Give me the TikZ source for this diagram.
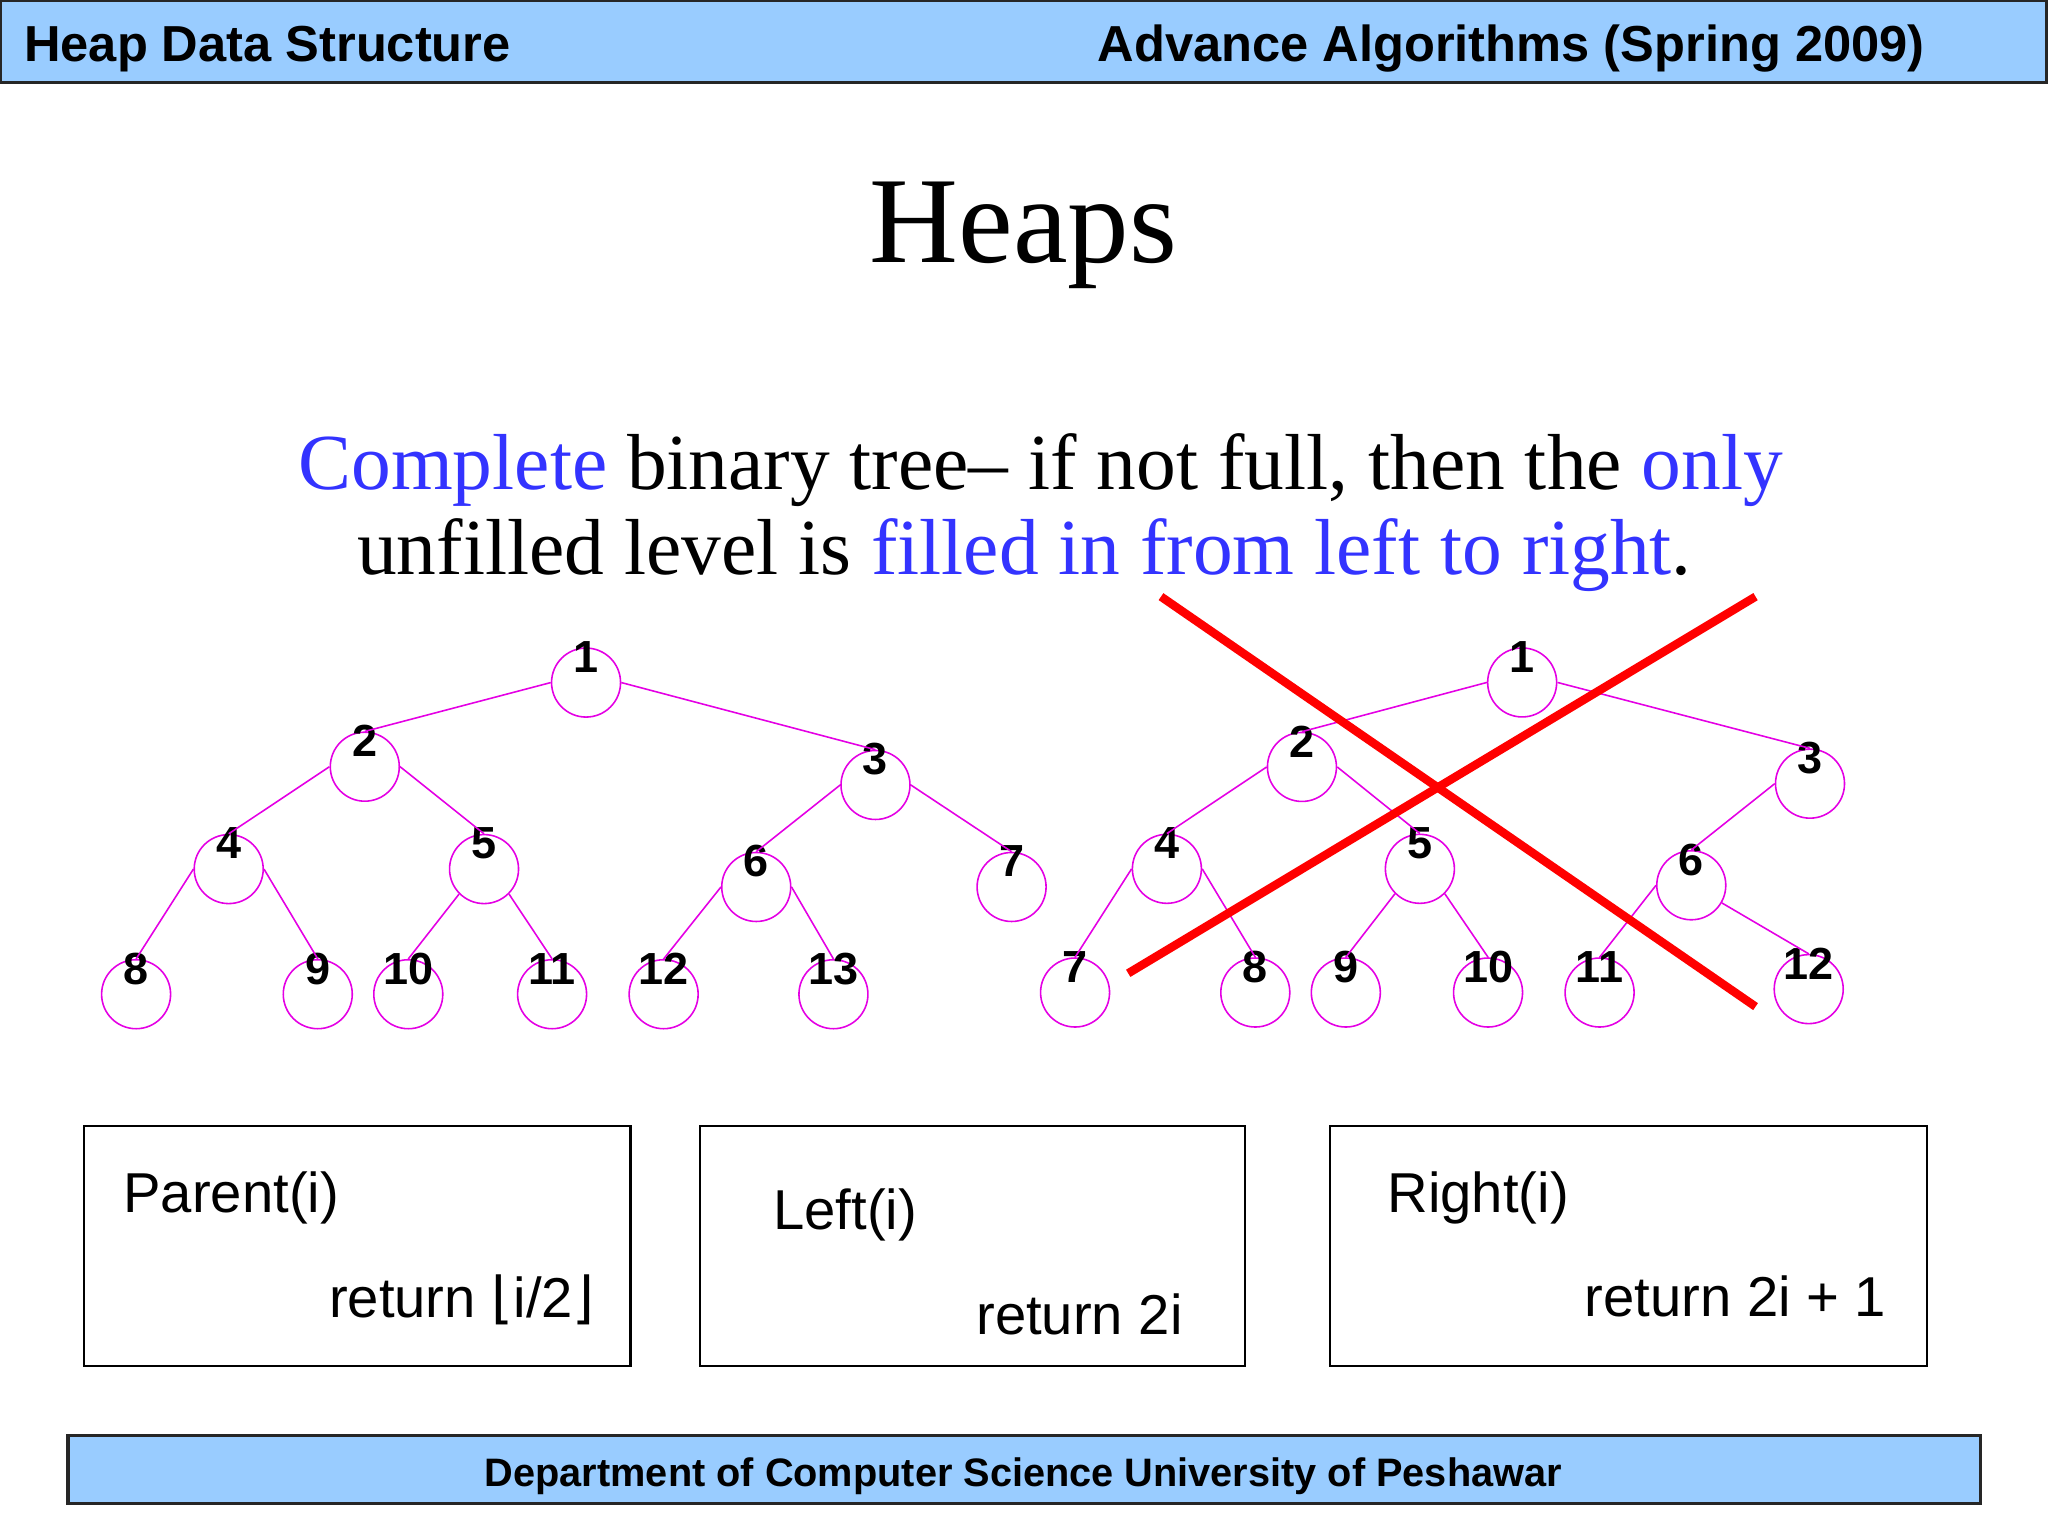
\documentclass[tikz,border=0pt]{standalone}
\usepackage{fontspec}
\setmainfont{Liberation Serif}
\setsansfont{Liberation Sans}
\newfontfamily\symfont{DejaVu Sans}
\usepackage{tikz}

\definecolor{barblue}{RGB}{153,204,255}
\definecolor{heapmagenta}{RGB}{228,0,228}
\definecolor{keyblue}{RGB}{51,51,255}
\definecolor{crossred}{RGB}{255,0,0}

\begin{document}
\begin{tikzpicture}[x=0.013061cm, y=-0.013061cm,
    bar/.style={fill=barblue, draw=black!85, line width=0.9pt},
    hdr/.style={font=\sffamily\bfseries\fontsize{14.4}{17}\selectfont, inner sep=0pt},
    body/.style={font=\fontsize{22.6}{27}\selectfont, inner sep=0pt},
    fn/.style={font=\sffamily\fontsize{16}{19}\selectfont, inner sep=0pt},
    fnbox/.style={draw=black, line width=0.7pt},
    vertex/.style={circle, draw=heapmagenta, line width=0.45pt, minimum size=0.69cm, inner sep=0pt},
    num/.style={font=\sffamily\bfseries\fontsize{12.8}{15}\selectfont, inner sep=0pt, yshift=7.3pt},
    edge/.style={draw=heapmagenta, line width=0.45pt},
    cross/.style={draw=crossred, line width=2.4pt}]
    \useasboundingbox (0,0) rectangle (1568,1176);

    % header and footer bars
    \draw [bar] (0,0) rectangle (1567,63);
    \node [hdr, anchor=base west] (course) at (18,47) {Heap Data Structure};
    \node [hdr, anchor=base east] (term) at (1474,47) {Advance Algorithms (Spring 2009)};
    \draw [bar] (52,1099) rectangle (1516,1151);
    \node [font=\sffamily\bfseries\fontsize{11.3}{13}\selectfont, inner sep=0pt, anchor=base] (dept) at (783.5,1138) {Department of Computer Science University of Peshawar};

    % title and definition
    \node [anchor=base, inner sep=0pt, font=\fontsize{35}{42}\selectfont] (title) at (783.5,201) {Heaps};
    \node [body, anchor=base west] (line1) at (228,374.6) {\textcolor{keyblue}{Complete} binary tree– if not full, then the \textcolor{keyblue}{only}};
    \node [body, anchor=base west] (line2) at (273,440.2) {unfilled level is \textcolor{keyblue}{filled in from left to right}.};

    % complete tree
    \node [vertex, label={[num]center:1}]  (L1)  at (448.7,522.6) {};
    \node [vertex, label={[num]center:2}]  (L2)  at (279.3,587) {};
    \node [vertex, label={[num]center:3}]  (L3)  at (670.3,601) {};
    \node [vertex, label={[num]center:4}]  (L4)  at (175.1,665.4) {};
    \node [vertex, label={[num]center:5}]  (L5)  at (370.6,665.4) {};
    \node [vertex, label={[num]center:6}]  (L6)  at (579,679.1) {};
    \node [vertex, label={[num]center:7}]  (L7)  at (774.5,679.1) {};
    \node [vertex, label={[num]center:8}]  (L8)  at (104.2,761.2) {};
    \node [vertex, label={[num]center:9}]  (L9)  at (243.3,761.2) {};
    \node [vertex, label={[num]center:10}] (L10) at (312.6,761.2) {};
    \node [vertex, label={[num]center:11}] (L11) at (422.7,761.2) {};
    \node [vertex, label={[num]center:12}] (L12) at (508.1,761.2) {};
    \node [vertex, label={[num]center:13}] (L13) at (638.1,761.2) {};
    \draw [edge] (L1.west) -- (L2.north);
    \draw [edge] (L1.east) -- (L3.north);
    \draw [edge] (L2.west) -- (L4.north);
    \draw [edge] (L2.east) -- (L5.north);
    \draw [edge] (L3.west) -- (L6.north);
    \draw [edge] (L3.east) -- (L7.north);
    \draw [edge] (L4.west) -- (L8.north);
    \draw [edge] (L4.east) -- (L9.north);
    \draw [edge] (L5.south west) -- (L10.north);
    \draw [edge] (L5.south east) -- (L11.north);
    \draw [edge] (L6.west) -- (L12.north);
    \draw [edge] (L6.east) -- (L13.north);

    % not a heap
    \node [vertex, label={[num]center:1}]  (R1)  at (1165.4,522.5) {};
    \node [vertex, label={[num]center:2}]  (R2)  at (996.8,587.2) {};
    \node [vertex, label={[num]center:3}]  (R3)  at (1385.8,600) {};
    \node [vertex, label={[num]center:4}]  (R4)  at (893.4,665.2) {};
    \node [vertex, label={[num]center:5}]  (R5)  at (1087.1,665.2) {};
    \node [vertex, label={[num]center:6}]  (R6)  at (1294.9,677.8) {};
    \node [vertex, label={[num]center:7}]  (R7)  at (823.1,759.9) {};
    \node [vertex, label={[num]center:8}]  (R8)  at (961.1,759.9) {};
    \node [vertex, label={[num]center:9}]  (R9)  at (1030.4,759.9) {};
    \node [vertex, label={[num]center:10}] (R10) at (1139.3,759.9) {};
    \node [vertex, label={[num]center:11}] (R11) at (1224.7,759.9) {};
    \node [vertex, label={[num]center:12}] (R12) at (1384.8,757.3) {};
    \draw [edge] (R1.west) -- (R2.north);
    \draw [edge] (R1.east) -- (R3.north);
    \draw [edge] (R2.west) -- (R4.north);
    \draw [edge] (R2.east) -- (R5.north);
    \draw [edge] (R3.west) -- (R6.north);
    \draw [edge] (R4.west) -- (R7.north);
    \draw [edge] (R4.east) -- (R8.north);
    \draw [edge] (R5.south west) -- (R9.north);
    \draw [edge] (R5.south east) -- (R10.north);
    \draw [edge] (R6.west) -- (R11.north);
    \draw [edge] (R6.-30) -- (R12.north);
    \draw [cross] (888.9,456.8) -- (1344.1,770.7);
    \draw [cross] (863.8,745.2) -- (1344.1,456.8);

    % index functions
    \draw [fnbox] (64.5,862) rectangle (482.9,1046);
    \node [fn, anchor=base west] (parent) at (94,928) {Parent(i)};
    \node [fn, anchor=base east] (parentret) at (456,1008.7) {return {\symfont⌊}i/2{\symfont⌋}};
    \draw [fnbox] (535.8,862) rectangle (953.2,1046);
    \node [fn, anchor=base west] (left) at (591.5,941) {Left(i)};
    \node [fn, anchor=base east] (leftret) at (906,1021.6) {return 2i};
    \draw [fnbox] (1018.2,862) rectangle (1475.5,1046);
    \node [fn, anchor=base west] (right) at (1061.8,928) {Right(i)};
    \node [fn, anchor=base east] (rightret) at (1444.7,1008) {return 2i + 1};
\end{tikzpicture}
\end{document}
